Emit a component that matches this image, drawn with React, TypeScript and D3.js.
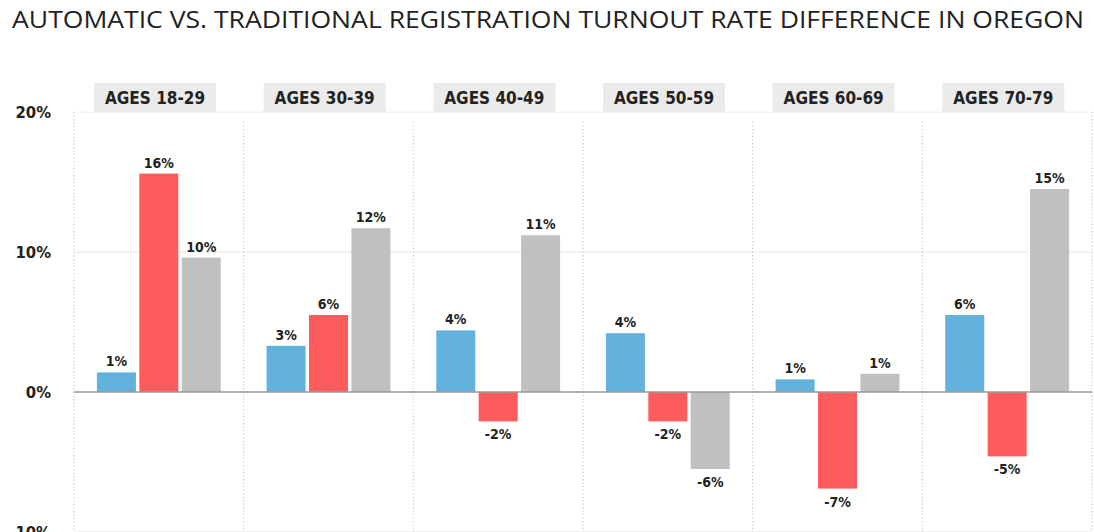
import React from "react";
import * as d3 from "d3";

const ageGroups = ["AGES 18-29", "AGES 30-39", "AGES 40-49", "AGES 50-59", "AGES 60-69", "AGES 70-79"];
const seriesKeys = ["blue", "red", "grey"];
const blueValues = [1.4, 3.3, 4.4, 4.2, 0.9, 5.5];
const redValues = [15.6, 5.5, -2.1, -2.1, -6.9, -4.6];
const greyValues = [9.6, 11.7, 11.2, -5.5, 1.3, 14.5];
const seriesColors = ["#62b2dd", "#fe5c5c", "#c0c0c0"];
const yTicks = [20, 10, 0, -10];
const title = "AUTOMATIC VS. TRADITIONAL REGISTRATION TURNOUT RATE DIFFERENCE IN OREGON";

const W = 1094;
const H = 532;
const labelFont = "'DejaVu Sans Condensed', 'DejaVu Sans', sans-serif";

function fmt(v: number) {
  const r = Math.round(Math.abs(v));
  return (v < 0 ? "-" : "") + r + "%";
}

export default function App() {
  const y = d3.scaleLinear().domain([-10, 20]).range([532, 112]);
  const x = d3.scaleBand<string>().domain(ageGroups).range([74, 1092]).padding(0);
  const inner = d3
    .scaleBand<string>()
    .domain(seriesKeys)
    .range([0, x.bandwidth()])
    .paddingInner(0.08)
    .paddingOuter(0.54);
  const seriesValues = [blueValues, redValues, greyValues];
  const [x0, x1] = x.range();
  const boundaries = ageGroups.map((g) => x(g) as number).concat([x1]);

  return (
    <svg
      width={W}
      height={H}
      style={{ position: "fixed", left: 0, top: 0, background: "#fff" }}
    >
      <text
        x={12}
        y={28}
        fontFamily="'Open Sans', sans-serif"
        fontSize={24}
        fill="#222"
        textLength={1072}
        lengthAdjust="spacingAndGlyphs"
      >
        {title}
      </text>

      {/* gridlines */}
      {yTicks
        .filter((t) => t !== 0)
        .map((t) => (
          <line key={t} x1={x0} x2={x1} y1={y(t)} y2={y(t)} stroke={t === 20 ? "#f0f0f0" : "#e6e6e6"} strokeWidth={1} />
        ))}

      {/* dotted panel separators */}
      {boundaries.map((bx, i) => (
        <line
          key={i}
          x1={bx}
          x2={bx}
          y1={i === 0 || i === boundaries.length - 1 ? y(20) : y(20) + 10}
          y2={H}
          stroke="#bdbdbd"
          strokeWidth={1}
          strokeDasharray="1.2 2.3"
        />
      ))}

      {/* y tick labels */}
      {yTicks.map((t) => (
        <text
          key={t}
          x={51}
          y={y(t) + 6}
          textAnchor="end"
          fontFamily={labelFont}
          fontWeight="bold"
          fontSize={16.5}
          fill="#222"
        >
          {t + "%"}
        </text>
      ))}

      {/* strip labels */}
      {ageGroups.map((g) => {
        const px = x(g) as number;
        return (
          <g key={g}>
            <rect x={px + 20} y={83} width={122} height={29} fill="#ebebeb" />
            <text
              x={px + 81}
              y={104}
              textAnchor="middle"
              fontFamily={labelFont}
              fontWeight="bold"
              fontSize={17}
              fill="#222"
            >
              {g}
            </text>
          </g>
        );
      })}

      {/* bars */}
      {ageGroups.map((g, gi) => {
        const px = x(g) as number;
        return (
          <g key={g} transform={`translate(${px},0)`}>
            {seriesKeys.map((k, si) => {
              const v = seriesValues[si][gi];
              const bx = inner(k) as number;
              const top = Math.min(y(v), y(0));
              const h = Math.abs(y(v) - y(0));
              return (
                <g key={k}>
                  <rect x={bx} y={top} width={inner.bandwidth()} height={h} fill={seriesColors[si]} />
                  <text
                    x={bx + inner.bandwidth() / 2}
                    y={v >= 0 ? y(v) - 6 : y(v) + 18}
                    textAnchor="middle"
                    fontFamily={labelFont}
                    fontWeight="bold"
                    fontSize={14}
                    fill="#222"
                  >
                    {fmt(v)}
                  </text>
                </g>
              );
            })}
          </g>
        );
      })}

      {/* zero line */}
      <line x1={x0} x2={x1} y1={y(0)} y2={y(0)} stroke="#999" strokeWidth={1.5} />
    </svg>
  );
}
